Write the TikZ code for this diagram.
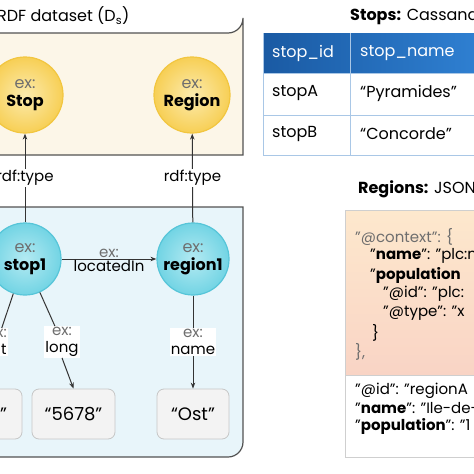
\documentclass[tikz,border=0pt]{standalone}
\usepackage{fontspec}
\setmainfont{Poppins}
\usetikzlibrary{arrows.meta,positioning}

\definecolor{yellowin}{HTML}{FCEBAE}
\definecolor{yellowout}{HTML}{F7CF55}
\definecolor{yellowline}{HTML}{F2C640}
\definecolor{cyanin}{HTML}{B4EAF2}
\definecolor{cyanout}{HTML}{72D4E4}
\definecolor{cyanline}{HTML}{56C5D8}
\definecolor{creamfill}{HTML}{FCF6E8}
\definecolor{bluefill}{HTML}{E8F5FA}
\definecolor{boxfill}{HTML}{F3F3F3}
\definecolor{boxline}{HTML}{C6C6C6}
\definecolor{exgray}{HTML}{6E6E6E}
\definecolor{linegray}{HTML}{333333}
\definecolor{hdrleft}{HTML}{1A5AA3}
\definecolor{hdrright}{HTML}{2F80D2}
\definecolor{tblline}{HTML}{A9C7E6}
\definecolor{peachtop}{HTML}{FDE8CD}
\definecolor{peachbot}{HTML}{F9D4C5}
\definecolor{jsonline}{HTML}{CFCFCF}

\begin{document}
\begin{tikzpicture}[x=1pt, y=-1pt,
		class/.style  = {circle, minimum size=76pt, inner sep=0pt, draw=yellowline, line width=1.2pt,
			inner color=yellowin, outer color=yellowout, align=center, font=\fontsize{16}{18}\selectfont},
		inst/.style   = {circle, minimum size=72pt, inner sep=0pt, draw=cyanline, line width=1.2pt,
			inner color=cyanin, outer color=cyanout, align=center, font=\fontsize{16}{18}\selectfont},
		valbox/.style = {draw=boxline, fill=boxfill, line width=0.8pt, rounded corners=7pt,
			minimum height=50pt, font=\fontsize{18}{20}\selectfont},
		lbl/.style    = {fill=white, inner sep=1pt, align=center, font=\fontsize{15}{17}\selectfont},
		plain/.style  = {inner sep=1pt, align=center, font=\fontsize{15}{17}\selectfont},
		title/.style  = {anchor=west, inner sep=0pt, font=\fontsize{16}{18}\selectfont},
		cell/.style   = {anchor=west, inner sep=0pt, font=\fontsize{16}{18}\selectfont},
		json/.style   = {anchor=west, inner sep=0pt, font=\fontsize{15}{17}\selectfont},
		link/.style   = {draw=linegray, line width=1pt},
		>={Stealth[length=6pt, width=4.5pt]}]
		
		\useasboundingbox (0,0) rectangle (474,474);
		\clip (0,0) rectangle (474,474);
		
		% Dataset frames
		\filldraw[fill=creamfill, draw=linegray!85, line width=1.2pt]
		(-10,33) -- (228,33) arc[start angle=90, end angle=0, radius=15] -- (243,155) -- (-10,155);
		\filldraw[fill=bluefill, draw=linegray!85, line width=1.2pt]
		(-10,207) -- (243,207) -- (243,442) arc[start angle=0, end angle=90, radius=15] -- (-10,457);
		
		\node[title] (ds) at (-3,16) {RDF dataset (D\textsubscript{s})};
		
		% Classes
		\node[class] (cstop) at (25,95) {{\color{exgray}ex:}\\\textbf{Stop}};
		\node[class] (cregion) at (192,95) {{\color{exgray}ex:}\\\textbf{Region}};
		
		% Instances
		\node[inst] (stop1) at (25,259) {{\color{exgray}ex:}\\\textbf{stop1}};
		\node[inst] (region1) at (193,259) {{\color{exgray}ex:}\\\textbf{region1}};
		
		% Literal values
		\node[valbox, minimum width=83pt, text width=53pt, inner sep=0pt, align=right] (v1) at (-19.5,414) {”};
		\node[valbox, minimum width=83pt] (v2) at (73.5,414) {“5678”};
		\node[valbox, minimum width=72pt] (v3) at (193,414) {“Ost”};
		
		% Property labels
		\node[lbl] (lat) at (-3,342) {{\color{exgray}ex:}\\lat};
		\node[lbl] (lng) at (62,342) {{\color{exgray}ex:}\\long};
		\node[lbl] (nm) at (193,342) {{\color{exgray}ex:}\\name};
		
		% Edges
		\foreach \inst/\cls in {stop1/cstop, region1/cregion}
		\draw[link, ->] (\inst) -- node[lbl] {rdf:type} (\cls);
		
		\draw[link, ->] (stop1) -- node[plain, above] {\color{exgray}ex:} node[plain, below] {locatedIn} (region1);
		
		\foreach \prop in {lat, lng}
		\draw[link] (stop1) -- (\prop);
		\draw[link] (region1) -- (nm);
		\draw[link, ->] (lng.south) -- (v2.north);
		\draw[link, ->] (nm.south) -- (v3.north);
		
		% Stops table
		\node[title] (stops) at (350,17) {\textbf{Stops:} Cassandra};
		\shade[left color=hdrleft, right color=hdrright] (263,33) rectangle (480,73);
		\draw[tblline, line width=0.9pt] (263,33) -- (263,155) -- (480,155);
		\foreach \y in {73,115}
		\draw[tblline, line width=0.9pt] (263,\y) -- (480,\y);
		\draw[tblline, line width=0.9pt] (350,33) -- (350,155);
		
		\node[cell, text=white] (h1) at (272,53) {stop\_id};
		\node[cell, text=white] (h2) at (360,53) {stop\_name};
		\foreach \id/\name [count=\r] in {stopA/“Pyramides”, stopB/“Concorde”} {
			\node[cell] (id\r) at (272,52+41*\r) {\id};
			\node[cell] (name\r) at (360,52+41*\r) {\name};
		}
		
		% Regions JSON-LD document
		\node[title] (regions) at (358,189) {\textbf{Regions:} JSON};
		\shade[top color=peachtop, bottom color=peachbot] (345,210) rectangle (480,375);
		\fill[white] (345,375) rectangle (480,457);
		\draw[jsonline, line width=0.9pt] (480,210) -- (345,210) -- (345,457) -- (480,457);
		\draw[jsonline, line width=0.9pt] (345,375) -- (480,375);
		
		\node[json, text=exgray] (j1) at (355,237) {"@context": \{};
		\node[json] (j2) at (370,256) {"\textbf{name}": "plc:n};
		\node[json] (j3) at (370,275) {"\textbf{population}};
		\node[json] (j4) at (383,294) {"@id": "plc:};
		\node[json] (j5) at (383,313) {"@type": "x};
		\node[json] (j6) at (372,333) {\}};
		\node[json, text=exgray] (j7) at (355,352) {\},};
		
		\node[json] (k1) at (355,391) {"@id": "regionA};
		\node[json] (k2) at (355,408) {"\textbf{name}": "Ile-de-};
		\node[json] (k3) at (355,426) {"\textbf{population}": "1};
		
	\end{tikzpicture}
\end{document}
